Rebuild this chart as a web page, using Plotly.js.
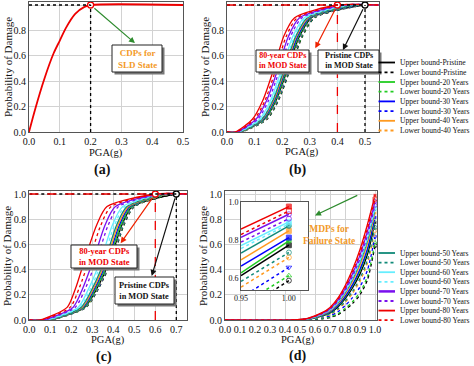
<!DOCTYPE html>
<html><head><meta charset="utf-8">
<script src="https://cdn.plot.ly/plotly-3.0.1.min.js"></script>
<style>html,body{margin:0;padding:0;background:#fff}#chart{width:474px;height:366px}</style>
</head><body><div id="chart"></div>
<script>
// ---------- series meta ----------
const seriesNames = ['Upper bound-Pristine','Lower bound-Pristine','Upper bound-20 Years','Lower bound-20 Years','Upper bound-30 Years','Lower bound-30 Years','Upper bound-40 Years','Lower bound-40 Years','Upper bound-50 Years','Lower bound-50 Years','Upper bound-60 Years','Lower bound-60 Years','Upper bound-70 Years','Lower bound-70 Years','Upper bound-80 Years','Lower bound-80 Years'];
const seriesColors = ['#000000','#000000','#22cc22','#22cc22','#0000ff','#0000ff','#ff9a1f','#ff9a1f','#108a78','#108a78','#66eeff','#66eeff','#7a10ee','#7a10ee','#ee0000','#ee0000'];
const seriesDash = ['solid','dot','solid','dot','solid','dot','solid','dot','solid','dot','solid','dot','solid','dot','solid','dot'];
const insetSymbols = ['square','circle-open','circle','triangle-up-open','square','triangle-down-open','square','circle-open','circle','circle-open','square','circle-open','circle-open','circle-open','square','square-open'];

// ---------- panel (a) ----------
const aPGA  = [0, 0.02, 0.05, 0.08, 0.10, 0.12, 0.15, 0.18, 0.20, 0.50];
const aProb = [0, 0.18, 0.42, 0.62, 0.72, 0.82, 0.93, 0.985, 1.0, 1.0];
const aRefPGA = [0.2];

// ---------- panels (b),(c): PGA at which each curve reaches given probability ----------
const probLevels = [0, 0, 0.10, 0.25, 0.50, 0.75, 0.90, 1.0, 1.0];
const b_q0   = [0.047,0.050,0.046,0.049,0.045,0.049,0.044,0.048,0.043,0.047,0.040,0.041,0.035,0.037,0.030,0.033];
const b_q10  = [0.136,0.145,0.134,0.143,0.131,0.141,0.128,0.140,0.126,0.138,0.118,0.122,0.105,0.111,0.092,0.099];
const b_q25  = [0.178,0.187,0.175,0.185,0.172,0.183,0.169,0.181,0.166,0.179,0.158,0.162,0.144,0.151,0.130,0.138];
const b_q50  = [0.220,0.230,0.217,0.228,0.214,0.226,0.211,0.224,0.208,0.222,0.199,0.204,0.185,0.192,0.170,0.178];
const b_q75  = [0.262,0.273,0.258,0.271,0.255,0.268,0.251,0.266,0.248,0.264,0.238,0.244,0.222,0.230,0.205,0.214];
const b_q90  = [0.306,0.318,0.302,0.316,0.299,0.313,0.295,0.311,0.291,0.308,0.280,0.286,0.263,0.272,0.245,0.255];
const b_q100 = [0.50,0.50,0.47,0.49,0.47,0.49,0.46,0.48,0.46,0.48,0.44,0.45,0.42,0.43,0.40,0.41];
const bMaxPGA = 0.55;
const bRefPGA = [0.4, 0.5];

const c_q0   = [0.096,0.100,0.094,0.099,0.092,0.098,0.089,0.098,0.087,0.097,0.079,0.083,0.065,0.071,0.050,0.058];
const c_q10  = [0.263,0.270,0.259,0.269,0.255,0.267,0.251,0.266,0.246,0.264,0.232,0.239,0.208,0.218,0.180,0.194];
const c_q25  = [0.322,0.330,0.316,0.328,0.311,0.327,0.306,0.325,0.300,0.323,0.283,0.292,0.254,0.267,0.220,0.237];
const c_q50  = [0.390,0.400,0.384,0.398,0.378,0.396,0.372,0.394,0.365,0.392,0.345,0.355,0.310,0.325,0.268,0.290];
const c_q75  = [0.440,0.450,0.434,0.448,0.428,0.446,0.422,0.444,0.415,0.442,0.395,0.405,0.360,0.375,0.320,0.340];
const c_q90  = [0.490,0.500,0.484,0.498,0.478,0.496,0.472,0.494,0.465,0.492,0.445,0.455,0.410,0.425,0.370,0.390];
const c_q100 = [0.70,0.70,0.66,0.68,0.65,0.67,0.65,0.67,0.64,0.66,0.63,0.64,0.62,0.63,0.60,0.61];
const cMaxPGA = 0.75;
const cRefPGA = [0.6, 0.7];

// ---------- panel (d) ----------
const dPGA = [0, 0.45, 0.55, 0.65, 0.70, 0.75, 0.80, 0.85, 0.90, 0.95, 1.00];
const d_PU  = [0,0,0.006,0.033,0.057,0.100,0.167,0.254,0.366,0.522,0.775];
const d_PL  = [0,0,0.000,0.010,0.020,0.040,0.080,0.130,0.200,0.320,0.590];
const d_20U = [0,0,0.006,0.036,0.062,0.108,0.180,0.272,0.389,0.551,0.800];
const d_20L = [0,0,0.001,0.013,0.025,0.048,0.091,0.146,0.222,0.346,0.615];
const d_30U = [0,0,0.007,0.038,0.065,0.113,0.186,0.281,0.402,0.566,0.815];
const d_30L = [0,0,0.002,0.019,0.034,0.063,0.113,0.177,0.263,0.397,0.660];
const d_40U = [0,0,0.008,0.043,0.072,0.125,0.204,0.306,0.434,0.606,0.850];
const d_40L = [0,0,0.004,0.025,0.044,0.079,0.137,0.211,0.308,0.452,0.710];
const d_50U = [0,0,0.009,0.046,0.077,0.132,0.215,0.322,0.456,0.632,0.875];
const d_50L = [0,0,0.004,0.028,0.049,0.087,0.148,0.227,0.330,0.478,0.735];
const d_60U = [0,0,0.009,0.048,0.081,0.139,0.224,0.335,0.474,0.654,0.895];
const d_60L = [0,0,0.009,0.047,0.079,0.136,0.221,0.330,0.466,0.646,0.885];
const d_70U = [0,0,0.011,0.054,0.090,0.154,0.246,0.366,0.515,0.705,0.940];
const d_70L = [0,0,0.010,0.050,0.084,0.144,0.232,0.346,0.488,0.672,0.910];
const d_80U = [0,0,0.012,0.060,0.100,0.170,0.270,0.400,0.560,0.760,0.990];
const d_80L = [0,0,0.011,0.056,0.094,0.160,0.256,0.380,0.533,0.727,0.960];
const dProb = [d_PU,d_PL,d_20U,d_20L,d_30U,d_30L,d_40U,d_40L,d_50U,d_50L,d_60U,d_60L,d_70U,d_70L,d_80U,d_80L];

// ---------- inset of (d) ----------
const insetPGA = [0.95, 1.00];
const insetAt095 = [0.615,0.430,0.630,0.460,0.665,0.500,0.697,0.555,0.733,0.585,0.772,0.757,0.815,0.790,0.858,0.830];
const insetAt100 = [0.774,0.589,0.797,0.615,0.814,0.658,0.849,0.710,0.875,0.736,0.896,0.885,0.936,0.913,0.976,0.953];

// ---------- helpers ----------
const W = 474, H = 366;
const fx = p => p / W;
const fy = p => 1 - p / H;
const SERIF = 'Liberation Serif';

function axis(domain, range, dtick, fmt, anchor) {
  return {domain, range, dtick, tick0: 0, tickformat: fmt, anchor,
    showgrid: true, gridcolor: '#d2d2d2', gridwidth: 1, zeroline: false,
    showline: true, mirror: true, linecolor: '#555', linewidth: 1, ticks: '',
    tickfont: {family: SERIF, size: 10, color: '#111'}, fixedrange: true};
}

const traces = [];
// (a)
traces.push({type:'scatter', mode:'lines', xaxis:'x', yaxis:'y', x:aPGA, y:aProb,
  line:{color:'#ee0000', width:1.8, shape:'spline', smoothing:0.8}, hoverinfo:'skip'});
// (b),(c)
function quantTraces(q, maxPGA, xa, ya) {
  for (let i = 0; i < seriesNames.length; i++) {
    traces.push({type:'scatter', mode:'lines', xaxis:xa, yaxis:ya, name:seriesNames[i],
      x:[0, q[0][i], q[1][i], q[2][i], q[3][i], q[4][i], q[5][i], q[6][i], maxPGA], y:probLevels,
      line:{color:seriesColors[i], dash:seriesDash[i], width:1.3, shape:'spline', smoothing:0.7}, hoverinfo:'skip'});
  }
}
quantTraces([b_q0,b_q10,b_q25,b_q50,b_q75,b_q90,b_q100], bMaxPGA, 'x2', 'y2');
quantTraces([c_q0,c_q10,c_q25,c_q50,c_q75,c_q90,c_q100], cMaxPGA, 'x3', 'y3');
// (d)
for (let i = 0; i < seriesNames.length; i++) {
  const sizes = dPGA.map((v, k) => k === dPGA.length - 1 ? 4 : 0);
  traces.push({type:'scatter', mode:'lines+markers', xaxis:'x4', yaxis:'y4', name:seriesNames[i], x:dPGA, y:dProb[i],
    line:{color:seriesColors[i], dash:seriesDash[i], width:1.3, shape:'spline', smoothing:0.7},
    marker:{symbol:insetSymbols[i], size:sizes, color:seriesColors[i]}, cliponaxis:false, hoverinfo:'skip'});
}
// inset
for (let i = 0; i < seriesNames.length; i++) {
  traces.push({type:'scatter', mode:'lines+markers', xaxis:'x5', yaxis:'y5', name:seriesNames[i], x:insetPGA, y:[insetAt095[i], insetAt100[i]],
    line:{color:seriesColors[i], dash:seriesDash[i], width:1.5},
    marker:{symbol:insetSymbols[i], size:[0,5], color:seriesColors[i], line:{color:seriesColors[i], width:1}}, hoverinfo:'skip'});
}
// reference markers
function refMarkers(pgas, colors, xa, ya) {
  traces.push({type:'scatter', mode:'markers', xaxis:xa, yaxis:ya, x:pgas, y:pgas.map(() => 1),
    marker:{symbol:'circle', size:6, color:'#fff', line:{color:colors, width:1.3}}, cliponaxis:false, hoverinfo:'skip'});
}
refMarkers(aRefPGA, ['#ee0000'], 'x', 'y');
refMarkers(bRefPGA, ['#ee0000','#000'], 'x2', 'y2');
refMarkers(cRefPGA, ['#ee0000','#000'], 'x3', 'y3');

// ---------- shapes ----------
const shapes = [];
function vline(xa, ya, x, color, dash) { shapes.push({type:'line', xref:xa, yref:ya, x0:x, x1:x, y0:0, y1:1, line:{color, dash, width:1.3}}); }
function hline(xa, ya, x, color, dash) { shapes.push({type:'line', xref:xa, yref:ya, x0:0, x1:x, y0:1, y1:1, line:{color, dash, width:1.3}}); }
vline('x','y',aRefPGA[0],'#000','dot'); hline('x','y',aRefPGA[0],'#000','dot');
hline('x2','y2',bRefPGA[1],'#000','dot'); hline('x2','y2',bRefPGA[0],'#ee0000','dash');
vline('x2','y2',bRefPGA[0],'#ee0000','dash'); vline('x2','y2',bRefPGA[1],'#000','dot');
hline('x3','y3',cRefPGA[1],'#000','dot'); hline('x3','y3',cRefPGA[0],'#ee0000','dash');
vline('x3','y3',cRefPGA[0],'#ee0000','dash'); vline('x3','y3',cRefPGA[1],'#000','dot');

function box(x0, y0, x1, y1) {
  shapes.push({type:'rect', xref:'paper', yref:'paper', x0:fx(x0+2.5), x1:fx(x1+2.5), y0:fy(y0+2.5), y1:fy(y1+2.5), fillcolor:'#777', line:{width:0}, layer:'above'});
  shapes.push({type:'rect', xref:'paper', yref:'paper', x0:fx(x0), x1:fx(x1), y0:fy(y0), y1:fy(y1), fillcolor:'#fff', line:{color:'#222', width:1}, layer:'above'});
}
box(112, 45, 162, 72);
box(256, 50, 309, 72);
box(318, 50, 379, 72);
box(71, 245, 137, 268);
box(115, 277, 174, 304);

// legends (manual, compact spacing)
const legendRowsB = [62.5, 72.3, 82, 91.7, 101.4, 111.1, 120.8, 130.5];
const legendRowsD = [253, 262.6, 272.2, 281.8, 291.4, 301, 310.6, 320.2];
const annotations = [];
function legendBlock(rows, offset) {
  rows.forEach((py, k) => {
    const i = offset + k;
    shapes.push({type:'line', xref:'paper', yref:'paper', x0:fx(378.5), x1:fx(395), y0:fy(py), y1:fy(py),
      line:{color:seriesColors[i], dash:seriesDash[i], width: i === 12 ? 2.5 : 1.8}});
    annotations.push({xref:'paper', yref:'paper', x:fx(398), y:fy(py), xanchor:'left', yanchor:'middle', showarrow:false,
      text:seriesNames[i], font:{family:SERIF, size:7.6, color:'#111'}});
  });
}
legendBlock(legendRowsB, 0);
legendBlock(legendRowsD, 8);

// ---------- annotations ----------
function txt(px, py, text, size, color, angle) {
  annotations.push({xref:'paper', yref:'paper', x:fx(px), y:fy(py), xanchor:'center', yanchor:'middle', showarrow:false,
    text, textangle: angle || 0, font:{family:SERIF, size, color: color || '#111'}});
}
function arrow(xa, ya, tx, ty, hx, hy, color) {
  annotations.push({xref:xa, yref:ya, axref:xa, ayref:ya, x:hx, y:hy, ax:tx, ay:ty, text:'', showarrow:true,
    arrowhead:2, arrowsize:1, arrowwidth:1.2, arrowcolor:color, standoff:0, startstandoff:3});
}
const ORANGE = '#f39a28';
txt(137, 58.5, '<b>CDPs for<br>SLD State</b>', 9, ORANGE);
txt(282.5, 61, '<b>80-year CDPs<br>in MOD State</b>', 8, '#ee0000');
txt(348.5, 61, '<b>Pristine CDPs<br>in MOD State</b>', 8, '#111');
txt(104, 256.5, '<b>80-year CDPs<br>in MOD State</b>', 8.5, '#ee0000');
txt(144.5, 290.5, '<b>Pristine CDPs<br>in MOD State</b>', 8.3, '#111');
txt(329, 235, '<b>MDPs for<br>Failure State</b>', 9.5, ORANGE);

arrow('x','y', 0.2, 1.0, 0.344, 0.70, '#2e8b2e');
arrow('x2','y2', 0.4, 1.0, 0.32, 0.66, '#ee2200');
arrow('x2','y2', 0.5, 1.0, 0.42, 0.645, '#111');
arrow('x3','y3', 0.6, 1.0, 0.435, 0.61, '#ee2200');
arrow('x3','y3', 0.7, 1.0, 0.583, 0.35, '#111');
arrow('x4','y4', 0.91, 1.005, 0.60, 0.83, '#2e8b2e');

// axis titles & panel labels
txt(8, 67, 'Probability of Damage', 11, '#111', -90);
txt(205, 67, 'Probability of Damage', 11, '#111', -90);
txt(7, 256, 'Probability of Damage', 11, '#111', -90);
txt(203, 256, 'Probability of Damage', 11, '#111', -90);
txt(106, 153, 'PGA(g)', 10.5);
txt(302, 152, 'PGA(g)', 10.5);
txt(108, 340, 'PGA(g)', 10.5);
txt(298, 340, 'PGA(g)', 10.5);
txt(102, 170, '<b>(a)</b>', 14);
txt(297, 170, '<b>(b)</b>', 14);
txt(104, 357, '<b>(c)</b>', 14);
txt(297, 356, '<b>(d)</b>', 14);

// ---------- layout ----------
const yTop1 = 132 - 1.02 * 127, yTop2 = 320 - 1.02 * 126;
const layout = {
  width: W, height: H, margin:{l:0, r:0, t:0, b:0}, showlegend:false,
  paper_bgcolor:'#fff', plot_bgcolor:'#fff', font:{family:SERIF},
  xaxis:  axis([fx(29), fx(183)], [0, 0.5], 0.1, '.1f', 'y'),
  yaxis:  axis([fy(132), fy(yTop1)], [0, 1.02], 0.2, '.1f', 'x'),
  xaxis2: axis([fx(227), fx(378.8)], [0, 0.55], 0.1, '.1f', 'y2'),
  yaxis2: axis([fy(132), fy(yTop1)], [0, 1.02], 0.2, '.1f', 'x2'),
  xaxis3: axis([fx(29.3), fx(186.8)], [0, 0.75], 0.1, '.1f', 'y3'),
  yaxis3: axis([fy(320), fy(yTop2)], [0, 1.02], 0.2, '.1f', 'x3'),
  xaxis4: axis([fx(225), fx(376.5)], [0, 1.01], 0.1, '.1f', 'y4'),
  yaxis4: axis([fy(320), fy(yTop2)], [0, 1.02], 0.2, '.1f', 'x4'),
  xaxis5: Object.assign(axis([fx(241), fx(308)], [0.95, 1.02], 0.05, '.2f', 'y5'), {showgrid:false, tickvals:[0.95, 1.0], tickfont:{family:SERIF, size:8, color:'#111'}}),
  yaxis5: Object.assign(axis([fy(290), fy(202)], [0.54, 1.0], 0.2, '.1f', 'x5'), {showgrid:false, tickvals:[0.6, 0.8, 1.0], tickfont:{family:SERIF, size:8, color:'#111'}}),
  shapes, annotations
};
Plotly.newPlot('chart', traces, layout, {staticPlot:true, displayModeBar:false});
</script>
</body></html>
